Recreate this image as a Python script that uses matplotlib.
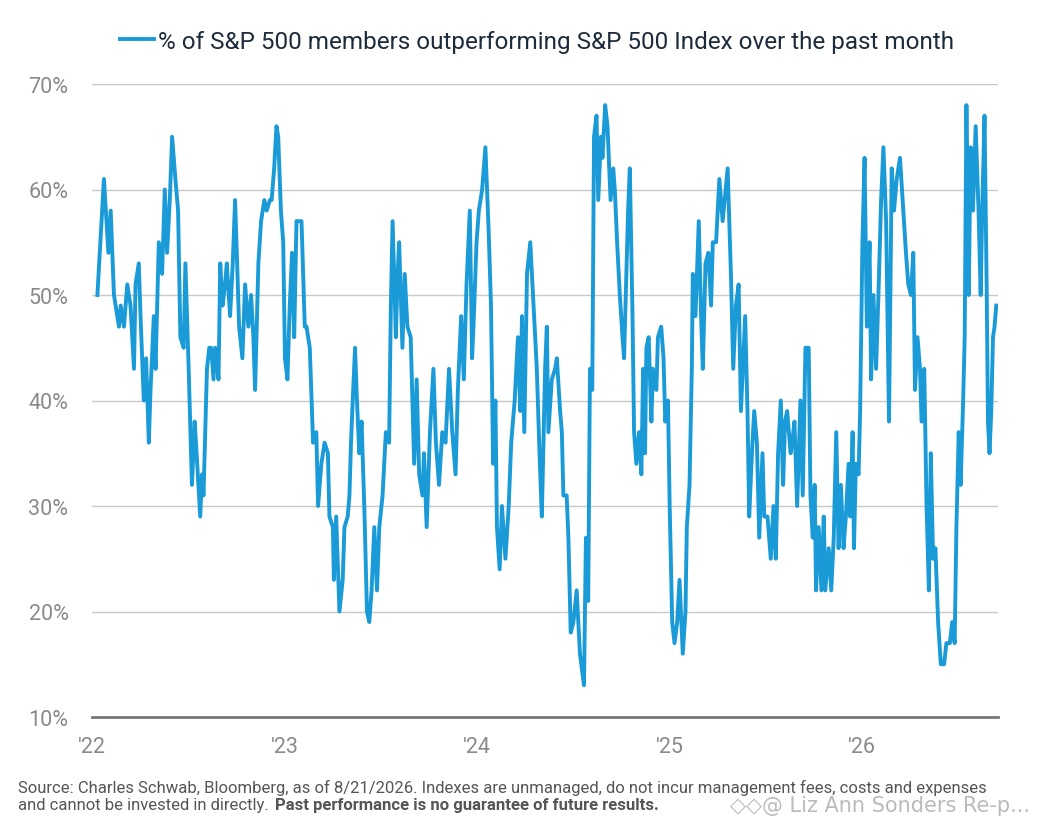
import matplotlib
matplotlib.use("Agg")
import matplotlib.pyplot as plt

# decimal years and % values
t1 = [2022.028,2022.050,2022.062,2022.085,2022.097,2022.114,2022.140,2022.149,2022.166,2022.183,2022.200,2022.218,2022.226,2022.243,2022.252,2022.269,2022.281,2022.295,2022.304,2022.321,2022.330,2022.347,2022.364,2022.378,2022.390,2022.404,2022.416,2022.433,2022.447,2022.459,2022.476,2022.485,2022.502,2022.519,2022.533,2022.540,2022.562,2022.571,2022.579,2022.597,2022.609,2022.619,2022.631,2022.640,2022.657,2022.666,2022.678,2022.691,2022.700,2022.717,2022.731,2022.743,2022.752,2022.764,2022.781,2022.795,2022.812,2022.826,2022.838,2022.847,2022.864,2022.878,2022.895,2022.907,2022.924,2022.933,2022.946,2022.958,2022.967,2022.981,2022.993,2023.002,2023.015,2023.027,2023.039,2023.050,2023.062,2023.074,2023.088,2023.105,2023.114,2023.131,2023.148,2023.165,2023.174,2023.191,2023.208]
v1 = [50,57,61,54,58,50,47,49,47,51,49,43,51,53,48,40,44,36,41,48,43,55,52,60,54,59,65,61,58,46,45,53,43,32,38,36,29,33,31,43,45,45,42,45,42,53,49,51,53,48,53,59,54,47,44,51,47,50,46,41,53,57,59,58,59,59,62,66,65,58,55,44,42,49,54,46,57,57,57,47,47,45,36,37,30,34,36]
t2 = [2023.225,2023.233,2023.251,2023.256,2023.268,2023.285,2023.302,2023.311,2023.328,2023.337,2023.345,2023.354,2023.366,2023.376,2023.388,2023.400,2023.414,2023.428,2023.440,2023.452,2023.466,2023.480,2023.492,2023.509,2023.526,2023.543,2023.552,2023.561,2023.578,2023.587,2023.595,2023.612,2023.624,2023.638,2023.655,2023.673,2023.686,2023.699,2023.716,2023.724,2023.738,2023.755,2023.773,2023.786,2023.802,2023.819,2023.836,2023.854,2023.871,2023.888,2023.900,2023.917,2023.931,2023.945,2023.962,2023.974,2023.983,2023.997,2024.009,2024.026,2024.043,2024.060,2024.072,2024.083,2024.095,2024.103,2024.117,2024.129,2024.147,2024.164,2024.177,2024.195,2024.212,2024.224,2024.233,2024.245,2024.259,2024.276,2024.293,2024.310,2024.324,2024.336,2024.353,2024.362,2024.370,2024.388,2024.405]
v2 = [35,29,28,23,29,20,23,28,29,31,36,40,45,40,35,38,30,20,19,22,28,22,28,31,37,36,49,57,46,52,55,45,52,47,46,34,42,33,31,35,28,37,43,36,32,37,36,43,37,33,41,48,42,51,58,44,48,55,58,60,64,56,49,34,40,28,24,30,25,30,36,40,46,39,48,37,52,55,49,43,35,29,43,47,37,42,43]
t3 = [2024.414,2024.431,2024.440,2024.448,2024.465,2024.474,2024.486,2024.500,2024.517,2024.534,2024.555,2024.565,2024.577,2024.586,2024.598,2024.607,2024.620,2024.629,2024.643,2024.651,2024.665,2024.677,2024.693,2024.707,2024.715,2024.727,2024.741,2024.755,2024.763,2024.775,2024.784,2024.793,2024.807,2024.815,2024.827,2024.841,2024.853,2024.862,2024.872,2024.879,2024.891,2024.905,2024.913,2024.931,2024.939,2024.956,2024.968,2024.977,2024.991,2025.000,2025.013,2025.025,2025.039,2025.051,2025.068,2025.082,2025.089,2025.103,2025.115,2025.120,2025.134,2025.151,2025.163,2025.172,2025.186,2025.201,2025.215,2025.224,2025.241,2025.258,2025.275,2025.301,2025.318,2025.330,2025.344,2025.358,2025.370,2025.392,2025.404,2025.413,2025.427,2025.439,2025.453,2025.465,2025.482,2025.491,2025.508,2025.525,2025.539,2025.551,2025.563,2025.577,2025.589,2025.599]
v3 = [44,39,37,31,31,27,18,19,22,16,13,27,21,43,41,65,67,59,65,63,68,66,59,62,60,55,50,46,44,52,58,62,48,37,34,37,33,43,35,45,46,38,43,41,46,47,44,38,40,30,19,17,19,23,16,20,28,32,43,52,48,57,48,43,53,54,49,55,55,61,57,62,52,43,49,51,39,48,39,29,35,39,36,27,35,29,29,25,30,25,35,40,32,38]
t4 = [2025.610,2025.628,2025.636,2025.648,2025.662,2025.679,2025.691,2025.705,2025.722,2025.731,2025.743,2025.753,2025.760,2025.774,2025.788,2025.800,2025.808,2025.826,2025.839,2025.852,2025.865,2025.877,2025.889,2025.903,2025.915,2025.929,2025.938,2025.950,2025.957,2025.967,2025.981,2025.989,2026.001,2026.012,2026.024,2026.038,2026.046,2026.058,2026.072,2026.084,2026.098,2026.110,2026.124,2026.139,2026.153,2026.165,2026.179,2026.196,2026.213,2026.227,2026.239,2026.253,2026.265,2026.274,2026.287,2026.300,2026.308,2026.322,2026.334,2026.346,2026.356,2026.368,2026.380,2026.394,2026.408,2026.425,2026.437,2026.455,2026.467,2026.480,2026.489,2026.501,2026.511,2026.524,2026.532,2026.541,2026.553,2026.563,2026.575,2026.589,2026.604,2026.615,2026.623,2026.635,2026.646,2026.653,2026.661,2026.670,2026.679,2026.687,2026.696]
v4 = [39,35,36,38,30,40,31,45,45,31,27,32,22,28,22,29,22,26,22,27,37,26,32,26,29,34,29,37,26,34,33,39,55,63,47,55,42,50,43,50,59,64,57,38,62,58,61,63,58,54,51,50,54,41,46,43,38,43,30,22,35,25,26,19,15,15,17,17,19,17,28,37,32,40,46,68,50,64,58,66,58,50,58,67,51,38,35,39,46,47,49]

years = [2022, 2023, 2024, 2025, 2026]
year_labels = ["'22", "'23", "'24", "'25", "'26"]
yticks = [10, 20, 30, 40, 50, 60, 70]
series_label = "% of S&P 500 members outperforming S&P 500 Index over the past month"

t = t1 + t2 + t3 + t4
v = v1 + v2 + v3 + v4

plt.rcParams['font.family'] = ['Roboto', 'DejaVu Sans']
fig = plt.figure(figsize=(10.37, 8.29), dpi=100)
ax = fig.add_axes([92/1037, 1-718/829, 906/1037, 633/829])
line, = ax.plot(t, v, color='#1a9bd7', lw=2.8, solid_joinstyle='round')
ax.set_xlim(2022.02, 2026.705)
ax.set_ylim(10, 70)
ax.set_yticks(yticks)
ax.set_yticklabels([f"{y}%" for y in yticks])
ax.set_xticks(years)
ax.set_xticklabels(year_labels)
ax.grid(axis='y', color='#c8c8c8', lw=1)
ax.set_axisbelow(True)
for s in ['top', 'right', 'left']:
    ax.spines[s].set_visible(False)
ax.spines['bottom'].set_color('#777777')
ax.spines['bottom'].set_linewidth(2)
ax.tick_params(axis='both', length=0, labelsize=15.5, labelcolor='#8a8a8a')
ax.tick_params(axis='y', pad=17)
ax.tick_params(axis='x', pad=14)

fig.legend([line], [series_label], loc='center', bbox_to_anchor=(537/1037, 1-42/829),
           frameon=False, fontsize=17.5, handlelength=1.4, handletextpad=0.2,
           labelcolor='#1d2b3a')

fs = 12
fig.text(18/1037, 1-788/829, "Source: Charles Schwab, Bloomberg, as of 8/21/2026. Indexes are unmanaged, do not incur management fees, costs and expenses",
         fontsize=fs, color='#555555', va='center')
t_a = fig.text(18/1037, 1-806/829, "and cannot be invested in directly. ", fontsize=fs, color='#555555', va='center')
fig.canvas.draw()
bb = t_a.get_window_extent()
fig.text(bb.x1/1037 + 2/1037, 1-806/829, "Past performance is no guarantee of future results.",
         fontsize=fs, color='#555555', va='center', fontweight='bold')
fig.text(1030/1037, 1-806/829, "◇◇@ Liz Ann Sonders Re-p...", fontsize=15, color='#bbbbbb',
         va='center', ha='right', family=['DejaVu Sans'])
fig.savefig('out.png', dpi=100)
